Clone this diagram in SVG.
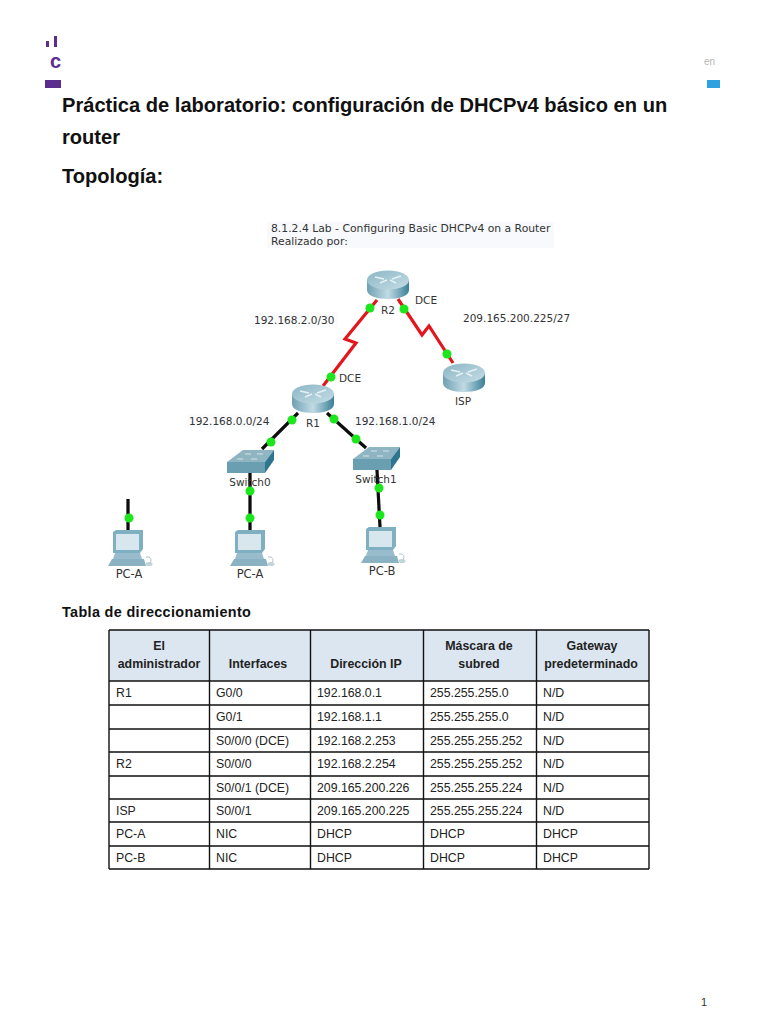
<svg xmlns="http://www.w3.org/2000/svg" width="768" height="1024" viewBox="0 0 768 1024">
<style>
.h{font-family:"Liberation Sans",Arial,sans-serif;font-weight:700;fill:#111}
.d{font-family:"DejaVu Sans",sans-serif;font-size:10.5px;fill:#333}
.t{font-family:"Liberation Sans",Arial,sans-serif;font-size:12.3px;fill:#222}
.b{font-family:"Liberation Sans",Arial,sans-serif;font-size:12.4px;font-weight:700;fill:#222;text-anchor:middle}
.m{text-anchor:middle}
.red{fill:none;stroke:#e2171c;stroke-width:3.2}
.blk{fill:none;stroke:#0a0a0a;stroke-width:3.2}
.dot{fill:#1ee61e}
.g{fill:none;stroke:#111;stroke-width:1.4}
.soft{filter:url(#soft)}
</style>
<defs>
<filter id="soft" x="-5%" y="-5%" width="110%" height="110%"><feGaussianBlur stdDeviation="0.35"/></filter>
<linearGradient id="rg" x1="0" y1="0" x2="1" y2="0"><stop offset="0" stop-color="#6fa0b2"/><stop offset=".5" stop-color="#c0dbe4"/><stop offset="1" stop-color="#3a7f97"/></linearGradient>
<linearGradient id="rt" x1="0" y1="0" x2="1" y2="1"><stop offset="0" stop-color="#8ab5c4"/><stop offset="1" stop-color="#c6dee6"/></linearGradient>
<g id="router">
<path d="M-21-5V5C-21 11-11 14 0 14S21 11 21 5V-5Z" fill="url(#rg)"/>
<ellipse cx="0" cy="-5" rx="21" ry="9.500" fill="url(#rt)"/>
<path d="M-13-8-4-6M-8-2-1-5M13-9 4-6M8-2 2-5" stroke="#e6f0f3" stroke-width="1.400" fill="none"/>
</g>
<g id="switch">
<path d="M0 12 16 0H47L38 12Z" fill="#8fb5c3"/>
<rect x="0" y="12" width="38" height="11" fill="#6b9fb2"/>
<path d="M38 12 47 0V10L38 23Z" fill="#2f7690"/>
<path d="M10 9h6M24 9h6M18 4h6M30 4h6" stroke="#d5e4e9" stroke-width="1"/>
</g>
<g id="pc">
<path d="M0 2 3 0H30V19L27 23H0Z" fill="#7fb0c2"/>
<rect x="3" y="4" width="23" height="16" fill="#d8e7ee"/>
<path d="M2 23H27L29 29H0Z" fill="#98bccb"/>
<path d="M-5 36-1 29H31L33 36Z" fill="#8ab2c2"/>
<path d="M33 27C38 26 39 30 37 33" fill="none" stroke="#a9c0ca" stroke-width="1"/>
<ellipse cx="36" cy="34" rx="3.500" ry="2" fill="#c2d3da"/>
</g>
</defs>
<rect width="768" height="1024" fill="#fff"/>

<g id="logo" fill="#5b2d8e">
<rect x="46" y="41" width="3" height="6"/>
<rect x="54" y="36" width="3" height="11"/>
<text x="50" y="68" font-family="Liberation Sans, sans-serif" font-weight="700" font-size="20">c</text>
<rect x="45" y="80" width="16" height="8"/>
</g>
<g id="brand">
<text x="704" y="65" font-family="Liberation Sans, sans-serif" font-size="10" fill="#b5b5b5">en</text>
<rect x="707" y="80" width="13" height="8" fill="#2fa0e0"/>
</g>

<text class="h" x="62" y="112" font-size="20.1">Práctica de laboratorio: configuración de DHCPv4 básico en un</text>
<text class="h" x="62" y="144" font-size="20.1">router</text>
<text class="h" x="62" y="183" font-size="20.1">Topología:</text>

<g id="banner">
<rect x="267" y="222" width="287" height="26" fill="#f7f9fc"/>
<text x="271" y="232" font-family="DejaVu Sans, sans-serif" font-size="10.8" fill="#333">8.1.2.4 Lab - Configuring Basic DHCPv4 on a Router</text>
<text x="271" y="245" font-family="DejaVu Sans, sans-serif" font-size="10.8" fill="#333">Realizado por:</text>
</g>

<g id="connectors" class="soft">
<path class="red" d="M377 300 345 339 356 343 323 386"/>
<path class="red" d="M398 299 422 335 429 326 453 363"/>
<path class="blk" d="M298 413 262 449"/>
<path class="blk" d="M327 413 366 448"/>
<path class="blk" d="M250 473V530"/>
<path class="blk" d="M377 470 380 527"/>
<path class="blk" d="M128 499V530"/>
<g class="dot">
<circle cx="370" cy="308" r="4.500"/><circle cx="331" cy="377" r="4.500"/>
<circle cx="404" cy="309" r="4.500"/><circle cx="447" cy="354" r="4.500"/>
<circle cx="292" cy="420" r="4.500"/><circle cx="271" cy="442" r="4.500"/>
<circle cx="334" cy="419" r="4.500"/><circle cx="356" cy="439" r="4.500"/>
<circle cx="250" cy="491" r="4.500"/><circle cx="250" cy="518" r="4.500"/>
<circle cx="379" cy="488" r="4.500"/><circle cx="380" cy="515" r="4.500"/>
<circle cx="129" cy="518" r="4.500"/>
</g>
</g>

<g id="R2"><use class="soft" href="#router" x="388" y="285"/><text class="d m" x="388" y="314">R2</text></g>
<g id="R1"><use class="soft" href="#router" x="313" y="399"/><text class="d m" x="313" y="427">R1</text></g>
<g id="ISP"><use class="soft" href="#router" x="464" y="378"/><text class="d m" x="463" y="405">ISP</text></g>
<g id="Switch0"><use class="soft" href="#switch" x="227" y="450"/><text class="d m" x="250" y="486">Switch0</text></g>
<g id="Switch1"><use class="soft" href="#switch" x="353" y="447"/><text class="d m" x="376" y="483">Switch1</text></g>
<g id="PC-A-left"><use class="soft" href="#pc" x="113" y="530"/><text class="d m" x="129" y="578" style="font-size:11.500px">PC-A</text></g>
<g id="PC-A"><use class="soft" href="#pc" x="235" y="530"/><text class="d m" x="250" y="578" style="font-size:11.500px">PC-A</text></g>
<g id="PC-B"><use class="soft" href="#pc" x="366" y="527"/><text class="d m" x="382" y="575" style="font-size:11.500px">PC-B</text></g>

<g id="labels">
<rect x="250" y="312" width="88" height="15" fill="#fafbfc"/>
<rect x="187" y="414" width="86" height="14" fill="#fafbfc"/>
<rect x="353" y="414" width="86" height="14" fill="#fafbfc"/>
<text class="d" x="254" y="324">192.168.2.0/30</text>
<text class="d" x="463" y="322">209.165.200.225/27</text>
<text class="d" x="415" y="304">DCE</text>
<text class="d" x="339" y="382">DCE</text>
<text class="d" x="189" y="425">192.168.0.0/24</text>
<text class="d" x="355" y="425">192.168.1.0/24</text>
</g>

<text class="h" x="62" y="617" font-size="14.4" letter-spacing="0.35">Tabla de direccionamiento</text>

<g id="table">
<rect x="109" y="630" width="540" height="51" fill="#dce6f1"/>
<path class="g" d="M109 630H649M109 681H649M109 705H649M109 729H649M109 752H649M109 776H649M109 799H649M109 822H649M109 846H649M109 869H649"/>
<path class="g" d="M109 630V869M209.500 630V869M310.500 630V869M423.500 630V869M536.500 630V869M649 630V869"/>
<text class="b" x="159" y="650">El</text>
<text class="b" x="159" y="668">administrador</text>
<text class="b" x="258" y="668">Interfaces</text>
<text class="b" x="366" y="668">Dirección IP</text>
<text class="b" x="479" y="650">Máscara de</text>
<text class="b" x="479" y="668">subred</text>
<text class="b" x="592" y="650">Gateway</text>
<text class="b" x="591" y="668">predeterminado</text>
<g class="t">
<text x="116" y="697">R1</text><text x="216" y="697">G0/0</text><text x="317" y="697">192.168.0.1</text><text x="430" y="697">255.255.255.0</text><text x="543" y="697">N/D</text>
<text x="216" y="721">G0/1</text><text x="317" y="721">192.168.1.1</text><text x="430" y="721">255.255.255.0</text><text x="543" y="721">N/D</text>
<text x="216" y="745">S0/0/0 (DCE)</text><text x="317" y="745">192.168.2.253</text><text x="430" y="745">255.255.255.252</text><text x="543" y="745">N/D</text>
<text x="116" y="768">R2</text><text x="216" y="768">S0/0/0</text><text x="317" y="768">192.168.2.254</text><text x="430" y="768">255.255.255.252</text><text x="543" y="768">N/D</text>
<text x="216" y="792">S0/0/1 (DCE)</text><text x="317" y="792">209.165.200.226</text><text x="430" y="792">255.255.255.224</text><text x="543" y="792">N/D</text>
<text x="116" y="815">ISP</text><text x="216" y="815">S0/0/1</text><text x="317" y="815">209.165.200.225</text><text x="430" y="815">255.255.255.224</text><text x="543" y="815">N/D</text>
<text x="116" y="838">PC-A</text><text x="216" y="838">NIC</text><text x="317" y="838">DHCP</text><text x="430" y="838">DHCP</text><text x="543" y="838">DHCP</text>
<text x="116" y="862">PC-B</text><text x="216" y="862">NIC</text><text x="317" y="862">DHCP</text><text x="430" y="862">DHCP</text><text x="543" y="862">DHCP</text>
</g>
</g>

<text x="701" y="1006" font-family="Liberation Sans, sans-serif" font-size="11" fill="#333">1</text>
</svg>
